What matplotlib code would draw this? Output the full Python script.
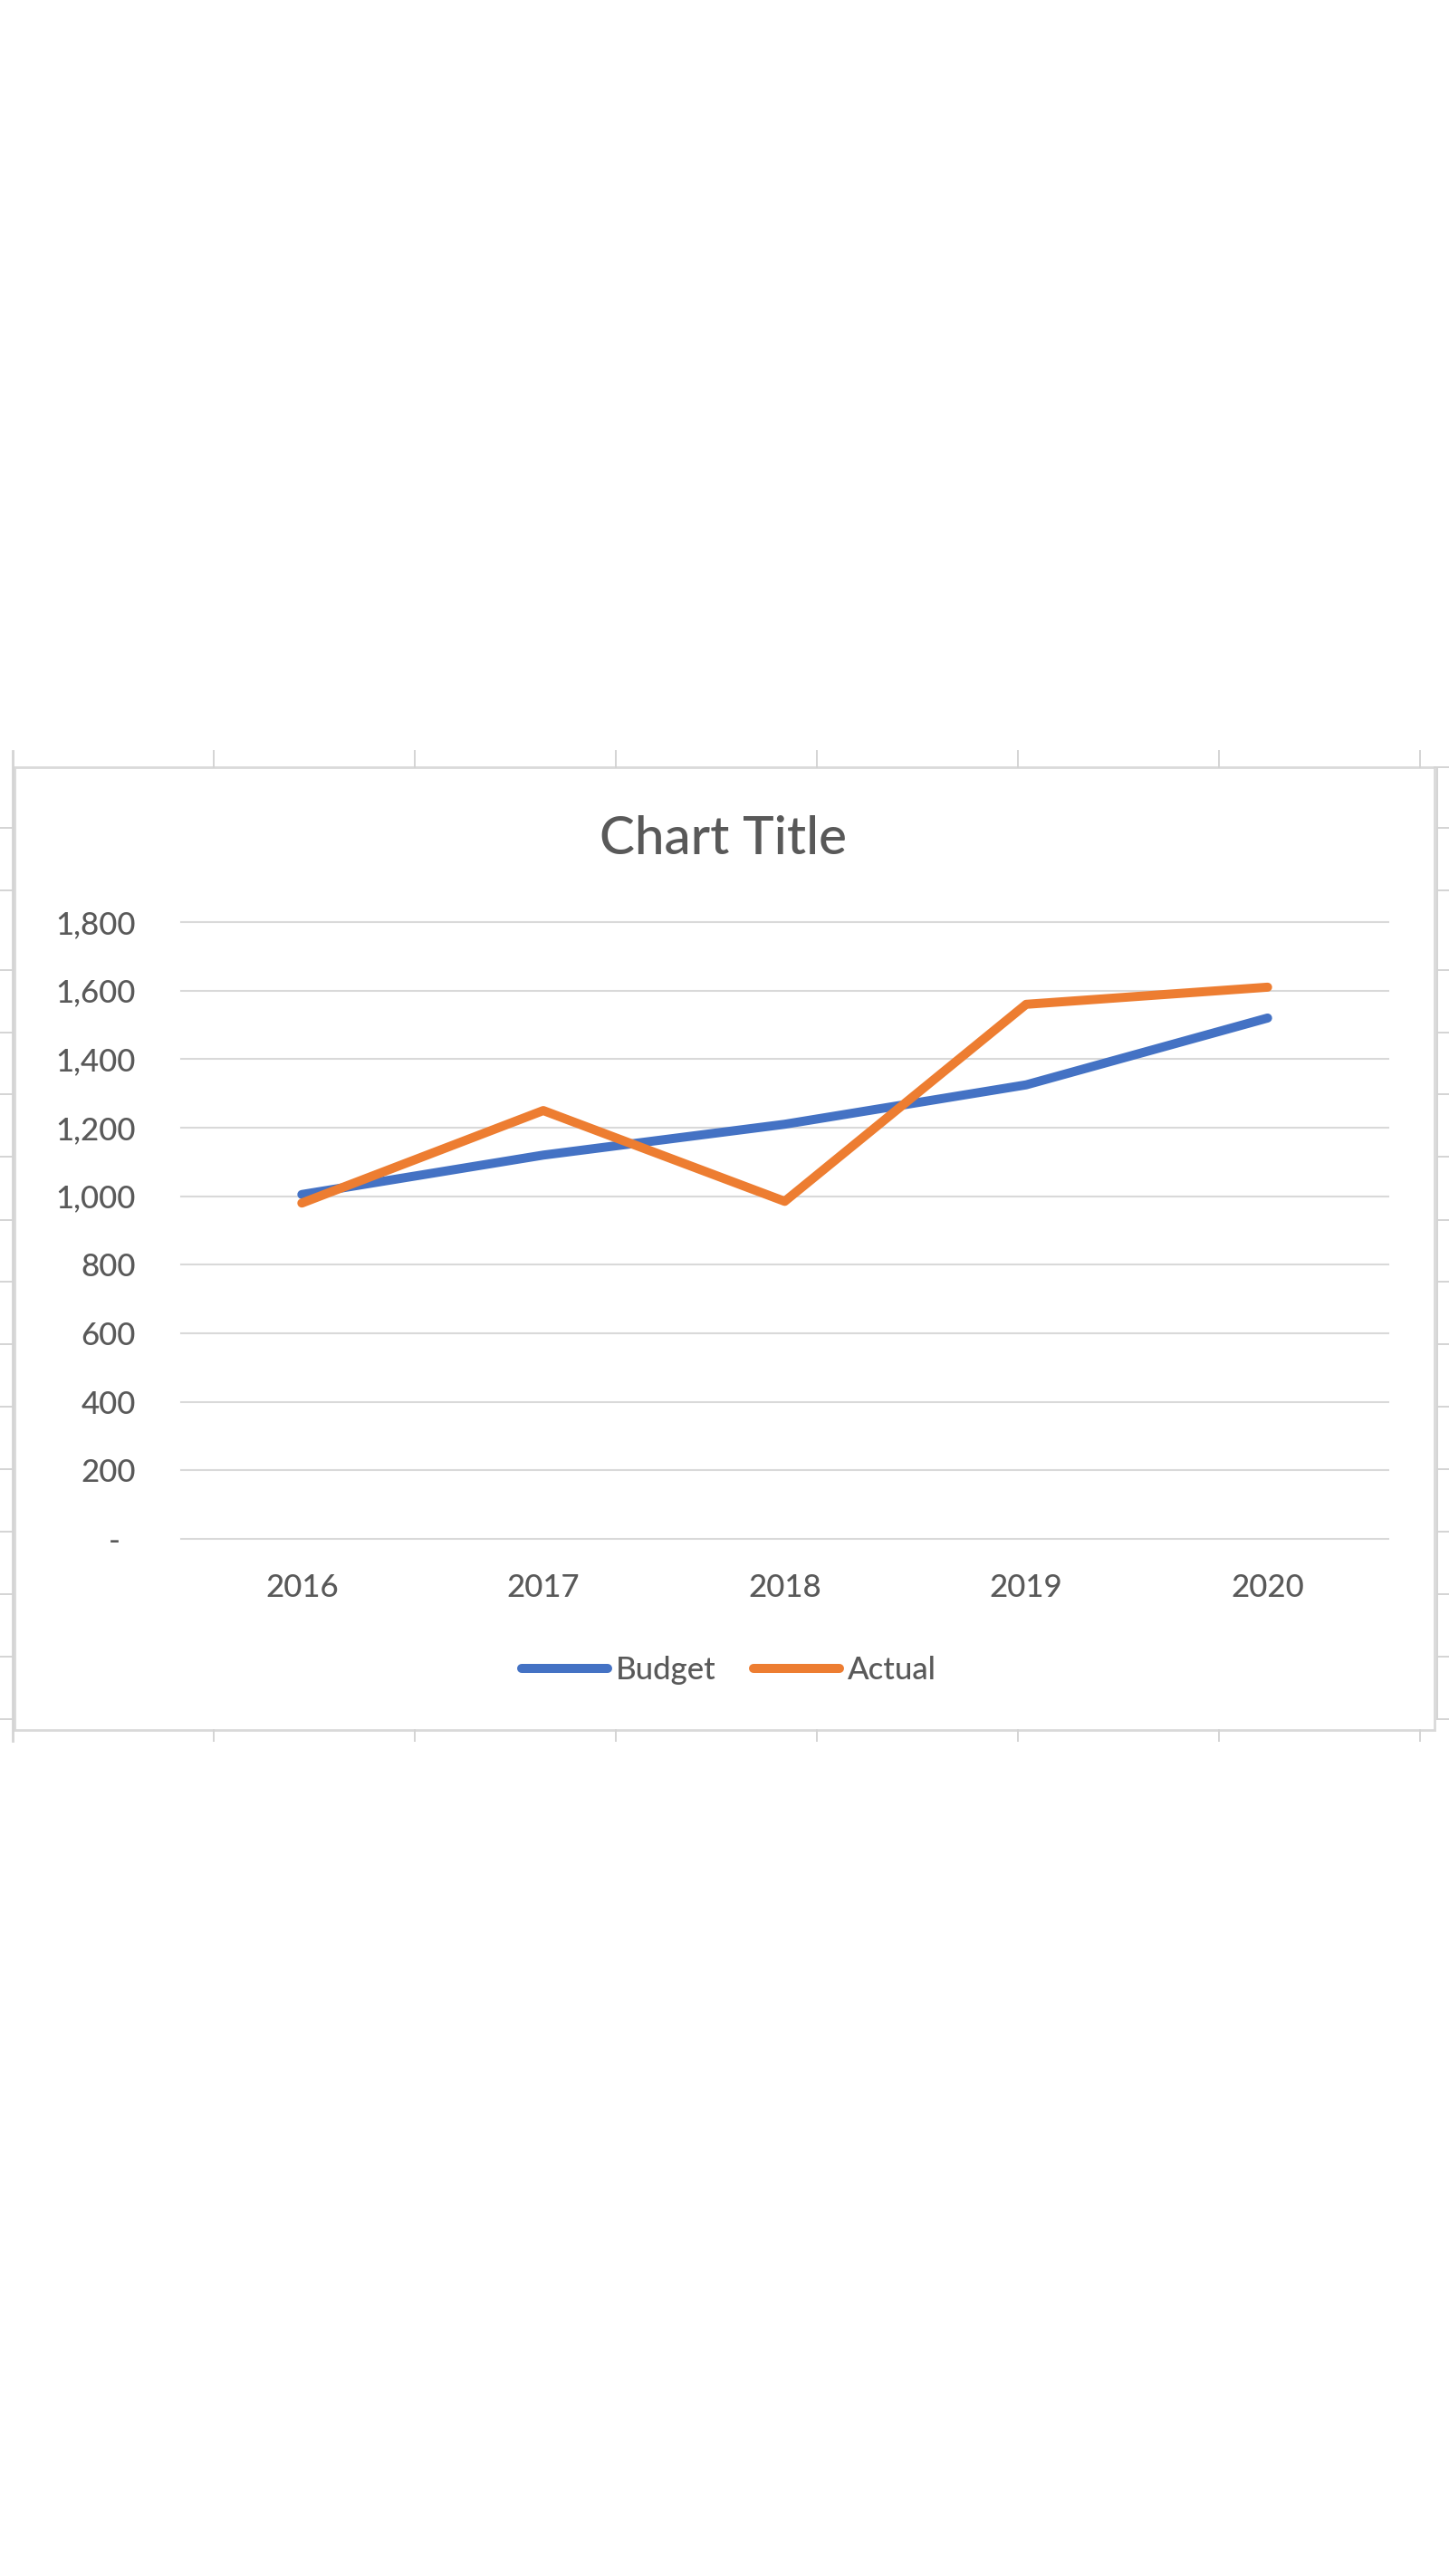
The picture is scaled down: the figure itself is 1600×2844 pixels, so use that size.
import matplotlib
matplotlib.use("Agg")
import matplotlib.pyplot as plt
from matplotlib.lines import Line2D
from matplotlib.patches import Rectangle
from matplotlib.ticker import FuncFormatter

# ---- data ----
years = ["2016", "2017", "2018", "2019", "2020"]
budget = [1005, 1120, 1210, 1325, 1520]
actual = [980, 1250, 985, 1560, 1610]
y_ticks = [0, 200, 400, 600, 800, 1000, 1200, 1400, 1600, 1800]
series_names = ["Budget", "Actual"]

BLUE = "#4472C4"
ORANGE = "#ED7D31"
TXT = "#595959"
GRID = "#D9D9D9"
SHEET = "#D4D4D4"

plt.rcParams['font.family'] = ['Lato', 'DejaVu Sans']
plt.rcParams['font.weight'] = 'medium'

W, H = 1600, 2844
fig = plt.figure(figsize=(W / 100, H / 100), dpi=100)
fig.patch.set_facecolor("white")


def fx(px):
    return px / W


def fy(py):
    return 1 - py / H


# ---- spreadsheet background grid ----
col_x = [236, 458, 680, 902, 1124, 1346, 1568]
row_y = [914, 983, 1071, 1140, 1208, 1277, 1347, 1415, 1484, 1553, 1622,
         1691, 1760, 1829, 1898]
for cx in col_x:
    fig.add_artist(Line2D([fx(cx), fx(cx)], [fy(829), fy(847)], color=SHEET, lw=1.4))
    fig.add_artist(Line2D([fx(cx), fx(cx)], [fy(1910), fy(1922)], color=SHEET, lw=1.4))
fig.add_artist(Line2D([fx(14), fx(14)], [fy(829), fy(1922)], color=SHEET, lw=2.0))
fig.add_artist(Line2D([fx(1587), fx(1587)], [fy(848), fy(1898)], color=SHEET, lw=1.4))
for ry in row_y:
    fig.add_artist(Line2D([fx(0), fx(14)], [fy(ry), fy(ry)], color=SHEET, lw=1.4))
    fig.add_artist(Line2D([fx(1587), fx(1600)], [fy(ry), fy(ry)], color=SHEET, lw=1.4))
fig.add_artist(Line2D([fx(1584), fx(1600)], [fy(847), fy(847)], color=SHEET, lw=1.4))

# ---- chart area border ----
fig.add_artist(Rectangle((fx(16), fy(1910)), fx(1584) - fx(16), fy(847) - fy(1910),
                         fill=True, facecolor="white", edgecolor=GRID, lw=2.0, zorder=1))

# ---- plot area ----
left, right, top, bottom = 200, 1533, 1018, 1699
ax = fig.add_axes([fx(left), fy(bottom), fx(right) - fx(left), fy(top) - fy(bottom)])
ax.set_zorder(2)
ax.patch.set_alpha(0)

x = list(range(len(years)))
ax.plot(x, budget, color=BLUE, lw=7.2, solid_capstyle="round", solid_joinstyle="round",
        label=series_names[0], zorder=3)
ax.plot(x, actual, color=ORANGE, lw=7.2, solid_capstyle="round", solid_joinstyle="round",
        label=series_names[1], zorder=4)

ax.set_xlim(-0.5, len(years) - 0.5)
ax.set_ylim(0, 1800)
ax.set_yticks(y_ticks)
ax.yaxis.set_major_formatter(FuncFormatter(lambda v, p: "-  " if v == 0 else f"{int(v):,}"))
ax.set_xticks(x)
ax.set_xticklabels(years)
ax.grid(axis="y", color=GRID, lw=1.5)
for gl in ax.get_ygridlines():
    gl.set_clip_on(False)
ax.set_axisbelow(True)
for s in ax.spines.values():
    s.set_visible(False)
ax.tick_params(axis="both", length=0, labelsize=25, labelcolor=TXT)
ax.tick_params(axis="y", pad=36)
ax.tick_params(axis="x", pad=27)

# ---- title ----
fig.text(0.499, fy(926), "Chart Title", ha="center", va="center", fontsize=42, color=TXT)

# ---- legend ----
handles = [Line2D([0], [0], color=BLUE, lw=7.2, solid_capstyle="round"),
           Line2D([0], [0], color=ORANGE, lw=7.2, solid_capstyle="round")]
fig.legend(handles, series_names, loc="center", bbox_to_anchor=(fx(805), fy(1844)),
           ncol=2, frameon=False, fontsize=25, labelcolor=TXT,
           handlelength=2.74, handletextpad=0.25, columnspacing=1.2)

fig.savefig("out.png", dpi=100, facecolor="white")
